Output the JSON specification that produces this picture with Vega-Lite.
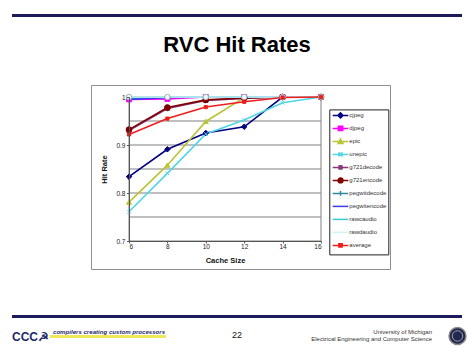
{
  "$schema": "https://vega.github.io/schema/vega-lite/v6.json",
  "background": "white",
  "padding": 0,
  "spacing": 0,
  "config": {"view": {"stroke": null}, "font": "Liberation Sans", "concat": {"spacing": 0}},
  "datasets": {
    "rates": [
      {"series": "cjpeg", "size": 6, "rate": 0.834}, {"series": "cjpeg", "size": 8, "rate": 0.891}, {"series": "cjpeg", "size": 10, "rate": 0.925}, {"series": "cjpeg", "size": 12, "rate": 0.938}, {"series": "cjpeg", "size": 14, "rate": 1.0}, {"series": "cjpeg", "size": 16, "rate": 1.0},
      {"series": "djpeg", "size": 6, "rate": 0.995}, {"series": "djpeg", "size": 8, "rate": 0.996}, {"series": "djpeg", "size": 10, "rate": 1.0}, {"series": "djpeg", "size": 12, "rate": 1.0}, {"series": "djpeg", "size": 14, "rate": 1.0}, {"series": "djpeg", "size": 16, "rate": 1.0},
      {"series": "epic", "size": 6, "rate": 0.781}, {"series": "epic", "size": 8, "rate": 0.858}, {"series": "epic", "size": 10, "rate": 0.949}, {"series": "epic", "size": 12, "rate": 0.999}, {"series": "epic", "size": 14, "rate": 1.0}, {"series": "epic", "size": 16, "rate": 1.0},
      {"series": "unepic", "size": 6, "rate": 0.761}, {"series": "unepic", "size": 8, "rate": 0.841}, {"series": "unepic", "size": 10, "rate": 0.923}, {"series": "unepic", "size": 12, "rate": 0.952}, {"series": "unepic", "size": 14, "rate": 0.988}, {"series": "unepic", "size": 16, "rate": 1.0},
      {"series": "g721decode", "size": 6, "rate": 0.930}, {"series": "g721decode", "size": 8, "rate": 0.976}, {"series": "g721decode", "size": 10, "rate": 0.993}, {"series": "g721decode", "size": 12, "rate": 0.997}, {"series": "g721decode", "size": 14, "rate": 1.0}, {"series": "g721decode", "size": 16, "rate": 1.0},
      {"series": "g721encode", "size": 6, "rate": 0.932}, {"series": "g721encode", "size": 8, "rate": 0.978}, {"series": "g721encode", "size": 10, "rate": 0.994}, {"series": "g721encode", "size": 12, "rate": 0.998}, {"series": "g721encode", "size": 14, "rate": 1.0}, {"series": "g721encode", "size": 16, "rate": 1.0},
      {"series": "pegwitdecode", "size": 6, "rate": 0.996}, {"series": "pegwitdecode", "size": 8, "rate": 0.999}, {"series": "pegwitdecode", "size": 10, "rate": 1.0}, {"series": "pegwitdecode", "size": 12, "rate": 1.0}, {"series": "pegwitdecode", "size": 14, "rate": 1.0}, {"series": "pegwitdecode", "size": 16, "rate": 1.0},
      {"series": "pegwitencode", "size": 6, "rate": 0.995}, {"series": "pegwitencode", "size": 8, "rate": 0.999}, {"series": "pegwitencode", "size": 10, "rate": 1.0}, {"series": "pegwitencode", "size": 12, "rate": 1.0}, {"series": "pegwitencode", "size": 14, "rate": 1.0}, {"series": "pegwitencode", "size": 16, "rate": 1.0},
      {"series": "rawcaudio", "size": 6, "rate": 0.999}, {"series": "rawcaudio", "size": 8, "rate": 1.0}, {"series": "rawcaudio", "size": 10, "rate": 1.0}, {"series": "rawcaudio", "size": 12, "rate": 1.0}, {"series": "rawcaudio", "size": 14, "rate": 1.0}, {"series": "rawcaudio", "size": 16, "rate": 1.0},
      {"series": "rawdaudio", "size": 6, "rate": 1.0}, {"series": "rawdaudio", "size": 8, "rate": 1.0}, {"series": "rawdaudio", "size": 10, "rate": 1.0}, {"series": "rawdaudio", "size": 12, "rate": 1.0}, {"series": "rawdaudio", "size": 14, "rate": 1.0}, {"series": "rawdaudio", "size": 16, "rate": 1.0},
      {"series": "average", "size": 6, "rate": 0.922}, {"series": "average", "size": 8, "rate": 0.955}, {"series": "average", "size": 10, "rate": 0.979}, {"series": "average", "size": 12, "rate": 0.990}, {"series": "average", "size": 14, "rate": 0.999}, {"series": "average", "size": 16, "rate": 1.0}
    ]
  },
  "vconcat": [
    {"width": 474, "height": 14, "data": {"values": []}, "mark": "point"},
    {"spacing": 0, "hconcat": [
      {"width": 12, "height": 3, "data": {"values": []}, "mark": "point"},
      {"width": 450, "height": 3, "view": {"fill": "#1b1b5c", "stroke": null}, "data": {"values": []}, "mark": "point"}
    ]},
    {"width": 474, "height": 67, "data": {"values": []}, "mark": "point",
     "title": {"text": "RVC Hit Rates", "orient": "top", "anchor": "middle", "frame": "group", "offset": -57, "baseline": "alphabetic", "font": "Liberation Sans", "fontSize": 22, "fontWeight": "bold", "color": "#000000"}},
    {"spacing": 0, "hconcat": [
      {"width": 90, "height": 184, "data": {"values": []}, "mark": "point"},
      {"width": 299, "height": 184,
       "view": {"stroke": "#8f8f8f", "strokeWidth": 1, "fill": "white"},
       "layer": [
         {"data": {"values": [{}]}, "mark": {"type": "rect", "fill": "white", "stroke": "#808080", "strokeWidth": 1},
          "encoding": {"x": {"datum": 6, "type": "quantitative", "title": "Cache Size"}, "x2": {"datum": 16}, "y": {"datum": 0.7, "type": "quantitative", "title": "Hit Rate"}, "y2": {"datum": 1}}},
         {"data": {"values": [{"tick": 0.75}, {"tick": 0.8}, {"tick": 0.85}, {"tick": 0.9}, {"tick": 0.95}, {"tick": 1}]},
          "mark": {"type": "rule", "stroke": "#808080", "strokeWidth": 1},
          "encoding": {"y": {"field": "tick", "type": "quantitative", "title": "Hit Rate"}, "x": {"datum": 6, "type": "quantitative", "title": "Cache Size"}, "x2": {"datum": 16}}},
         {"data": {"name": "rates"}, "mark": {"type": "line", "strokeWidth": 1.6},
          "encoding": {
            "x": {"field": "size", "type": "quantitative", "title": "Cache Size",
                  "scale": {"domain": [6, 16], "range": [38, 230], "nice": false, "zero": false},
                  "axis": {"offset": -28, "values": [6, 8, 10, 12, 14, 16], "grid": false, "zindex": 1, "labelFontSize": 6.5, "labelColor": "#222", "labelPadding": 0.5, "tickSize": 2, "tickColor": "#555", "domainColor": "#555", "titleFontSize": 7.5, "titleFontWeight": "bold", "titleColor": "#111", "titlePadding": 6.5}},
            "y": {"field": "rate", "type": "quantitative", "title": "Hit Rate",
                  "scale": {"domain": [0.7, 1], "range": [156, 12], "nice": false, "zero": false},
                  "axis": {"offset": -38, "values": [0.7, 0.75, 0.8, 0.85, 0.9, 0.95, 1], "format": "~g", "grid": false, "zindex": 1, "labelFontSize": 6.5, "labelColor": "#222", "labelPadding": 1.5, "tickSize": 2.5, "tickColor": "#555", "domainColor": "#555", "titleFontSize": 7.5, "titleFontWeight": "bold", "titleColor": "#111", "titlePadding": 7}},
            "color": {"field": "series", "type": "nominal",
                      "scale": {"domain": ["cjpeg", "djpeg", "epic", "unepic", "g721decode", "g721encode", "pegwitdecode", "pegwitencode", "rawcaudio", "rawdaudio", "average"],
                                "range": ["#000080", "#FF00FF", "#B9C437", "#4FD6E6", "#8B3A7E", "#800000", "#2E8B9A", "#3B3BF0", "#3CC8D0", "#CFF4F6", "#EE1C1C"]},
                      "legend": {"title": null, "orient": "none", "legendX": 329.3, "legendY": 109.4, "strokeColor": "#222", "fillColor": "white", "padding": 1,
                                 "labelFont": "Liberation Sans", "labelFontSize": 6, "labelColor": "#333", "labelOffset": 9, "labelLimit": 80,
                                 "symbolSize": 64, "symbolStrokeWidth": 1.5, "rowPadding": -5.5,
                                 "encode": {"symbols": {"update": {
                                   "shape": {"signal": "['M1.3,-1.1M1.3,1.1M-0.65,0H3.25M0.675,0L1.3,-0.625L1.925,0L1.3,0.625Z','M1.3,-1.1M1.3,1.1M-0.65,0H3.25M0.75,-0.55H1.85V0.55H0.75Z','M1.3,-1.1M1.3,1.1M-0.65,0H3.25M1.3,-0.6L1.9,0.5H0.7Z','M1.3,-1.1M1.3,1.1M-0.65,0H3.25M0.8,-0.5L1.8,0.5M0.8,0.5L1.8,-0.5','M1.3,-1.1M1.3,1.1M-0.65,0H3.25M0.8,-0.5L1.8,0.5M0.8,0.5L1.8,-0.5M1.3,-0.6V0.6','M1.3,-1.1M1.3,1.1M-0.65,0H3.25M0.7,0A0.6,0.6 0 1,0 1.9,0A0.6,0.6 0 1,0 0.7,0Z','M1.3,-1.1M1.3,1.1M-0.65,0H3.25M1.3,-0.6V0.6','M1.3,-1.1M1.3,1.1M-0.65,0H3.25','M1.3,-1.1M1.3,1.1M-0.65,0H3.25','M1.3,-1.1M1.3,1.1M-0.65,0H3.25','M1.3,-1.1M1.3,1.1M-0.65,0H3.25M0.9,-0.4H1.7V0.4H0.9Z'][indexof(['cjpeg','djpeg','epic','unepic','g721decode','g721encode','pegwitdecode','pegwitencode','rawcaudio','rawdaudio','average'], datum.value)]"},
                                   "fill": {"signal": "['#000080','#FF00FF','#B9C437','#4FD6E6','#8B3A7E','#800000','#2E8B9A','#3B3BF0','#3CC8D0','#CFF4F6','#EE1C1C'][indexof(['cjpeg','djpeg','epic','unepic','g721decode','g721encode','pegwitdecode','pegwitencode','rawcaudio','rawdaudio','average'], datum.value)]"},
                                   "strokeWidth": {"value": 1.5},
                                   "opacity": {"value": 1}
                                 }}}}
                      }
          }},
         {"data": {"name": "rates"}, "transform": [{"filter": {"field": "series", "equal": "cjpeg"}}],
          "mark": {"type": "point", "shape": "diamond", "filled": true, "size": 30, "fill": "#000080", "stroke": "#000080", "strokeWidth": 1, "opacity": 1},
          "encoding": {"x": {"field": "size", "type": "quantitative", "title": "Cache Size"}, "y": {"field": "rate", "type": "quantitative", "title": "Hit Rate"}}},
         {"data": {"name": "rates"}, "transform": [{"filter": {"field": "series", "equal": "djpeg"}}],
          "mark": {"type": "point", "shape": "square", "filled": true, "size": 24, "fill": "#FF00FF", "stroke": "#FF00FF", "strokeWidth": 1, "opacity": 1},
          "encoding": {"x": {"field": "size", "type": "quantitative", "title": "Cache Size"}, "y": {"field": "rate", "type": "quantitative", "title": "Hit Rate"}}},
         {"data": {"name": "rates"}, "transform": [{"filter": {"field": "series", "equal": "epic"}}],
          "mark": {"type": "point", "shape": "triangle-up", "filled": true, "size": 24, "fill": "#B9C437", "stroke": "#B9C437", "strokeWidth": 1, "opacity": 1},
          "encoding": {"x": {"field": "size", "type": "quantitative", "title": "Cache Size"}, "y": {"field": "rate", "type": "quantitative", "title": "Hit Rate"}}},
         {"data": {"name": "rates"}, "transform": [{"filter": {"field": "series", "equal": "unepic"}}],
          "mark": {"type": "point", "shape": "M-0.7,-0.7L0.7,0.7M-0.7,0.7L0.7,-0.7", "filled": false, "size": 28, "stroke": "#4FD6E6", "strokeWidth": 1, "opacity": 1},
          "encoding": {"x": {"field": "size", "type": "quantitative", "title": "Cache Size"}, "y": {"field": "rate", "type": "quantitative", "title": "Hit Rate"}}},
         {"data": {"name": "rates"}, "transform": [{"filter": {"field": "series", "equal": "g721decode"}}],
          "mark": {"type": "point", "shape": "M-0.8,-0.8L0.8,0.8M-0.8,0.8L0.8,-0.8M0,-1V1", "filled": false, "size": 30, "stroke": "#8B3A7E", "strokeWidth": 1.2, "opacity": 1},
          "encoding": {"x": {"field": "size", "type": "quantitative", "title": "Cache Size"}, "y": {"field": "rate", "type": "quantitative", "title": "Hit Rate"}}},
         {"data": {"name": "rates"}, "transform": [{"filter": {"field": "series", "equal": "g721encode"}}],
          "mark": {"type": "point", "shape": "circle", "filled": true, "size": 34, "fill": "#800000", "stroke": "#800000", "strokeWidth": 1, "opacity": 1},
          "encoding": {"x": {"field": "size", "type": "quantitative", "title": "Cache Size"}, "y": {"field": "rate", "type": "quantitative", "title": "Hit Rate"}}},
         {"data": {"name": "rates"}, "transform": [{"filter": {"field": "series", "equal": "pegwitdecode"}}],
          "mark": {"type": "point", "shape": "M-1,0H1M0,-1V1", "filled": false, "size": 28, "stroke": "#2E8B9A", "strokeWidth": 1, "opacity": 1},
          "encoding": {"x": {"field": "size", "type": "quantitative", "title": "Cache Size"}, "y": {"field": "rate", "type": "quantitative", "title": "Hit Rate"}}},
         {"data": {"name": "rates"}, "transform": [{"filter": {"field": "series", "equal": "rawdaudio"}}],
          "mark": {"type": "point", "shape": "circle", "filled": true, "size": 30, "fill": "#EAFBFC", "stroke": "#9FB4B8", "strokeWidth": 1, "opacity": 1},
          "encoding": {"x": {"field": "size", "type": "quantitative", "title": "Cache Size"}, "y": {"field": "rate", "type": "quantitative", "title": "Hit Rate"}}},
         {"data": {"name": "rates"}, "transform": [{"filter": {"field": "series", "equal": "average"}}],
          "mark": {"type": "point", "shape": "square", "filled": true, "size": 10, "fill": "#EE1C1C", "stroke": "#EE1C1C", "strokeWidth": 1, "opacity": 1},
          "encoding": {"x": {"field": "size", "type": "quantitative", "title": "Cache Size"}, "y": {"field": "rate", "type": "quantitative", "title": "Hit Rate"}}}
       ]}
    ]},
    {"width": 474, "height": 45, "data": {"values": []}, "mark": "point"},
    {"spacing": 0, "hconcat": [
      {"width": 12, "height": 3, "data": {"values": []}, "mark": "point"},
      {"width": 450, "height": 3, "view": {"fill": "#1b1b5c", "stroke": null}, "data": {"values": []}, "mark": "point"}
    ]},
    {"width": 474, "height": 6, "data": {"values": []}, "mark": "point"},
    {"spacing": 0, "hconcat": [
      {"width": 12, "height": 20, "data": {"values": []}, "mark": "point"},
      {"width": 38, "height": 20, "data": {"values": []}, "mark": "point",
       "title": {"text": "CCC☭", "orient": "top", "anchor": "start", "frame": "group", "offset": -26.5, "baseline": "alphabetic", "fontSize": 12, "fontWeight": "bold", "color": "#1f2a6b"}},
      {"spacing": 0, "vconcat": [
        {"width": 116, "height": 9, "data": {"values": []}, "mark": "point",
         "title": {"text": "compilers creating custom processors", "orient": "top", "anchor": "start", "frame": "group", "offset": -14, "dx": 3, "baseline": "alphabetic", "fontSize": 6.1, "fontWeight": "bold", "fontStyle": "italic", "color": "#1f2a6b"}},
        {"width": 116, "height": 3, "view": {"fill": "#F0E858", "stroke": null}, "data": {"values": []}, "mark": "point"}
      ]},
      {"width": 61, "height": 20, "data": {"values": []}, "mark": "point"},
      {"width": 20, "height": 20, "data": {"values": []}, "mark": "point",
       "title": {"text": "22", "orient": "top", "anchor": "middle", "frame": "group", "offset": -20.5, "baseline": "alphabetic", "fontSize": 9, "fontWeight": "normal", "color": "#111"}},
      {"width": 35, "height": 20, "data": {"values": []}, "mark": "point"},
      {"width": 150, "height": 20, "data": {"values": []}, "mark": "point",
       "title": {"text": "University of Michigan", "subtitle": "Electrical Engineering and Computer Science", "orient": "top", "anchor": "end", "frame": "group", "offset": -20.5, "baseline": "alphabetic", "fontSize": 6, "fontWeight": "normal", "color": "#333", "subtitleFontSize": 6, "subtitleColor": "#333", "subtitlePadding": 0.5, "subtitleFont": "Liberation Sans"}},
      {"width": 14, "height": 20, "data": {"values": []}, "mark": "point"},
      {"width": 19, "height": 20, "data": {"values": [{}]},
       "layer": [
         {"mark": {"type": "point", "shape": "circle", "size": 289, "filled": true, "fill": "#24284a", "stroke": "#8a8a8a", "strokeWidth": 1.5, "opacity": 1}, "encoding": {}},
         {"mark": {"type": "point", "shape": "circle", "size": 110, "filled": false, "stroke": "#9aa0b5", "strokeWidth": 1, "opacity": 1}, "encoding": {}}
       ]}
    ]}
  ]
}
